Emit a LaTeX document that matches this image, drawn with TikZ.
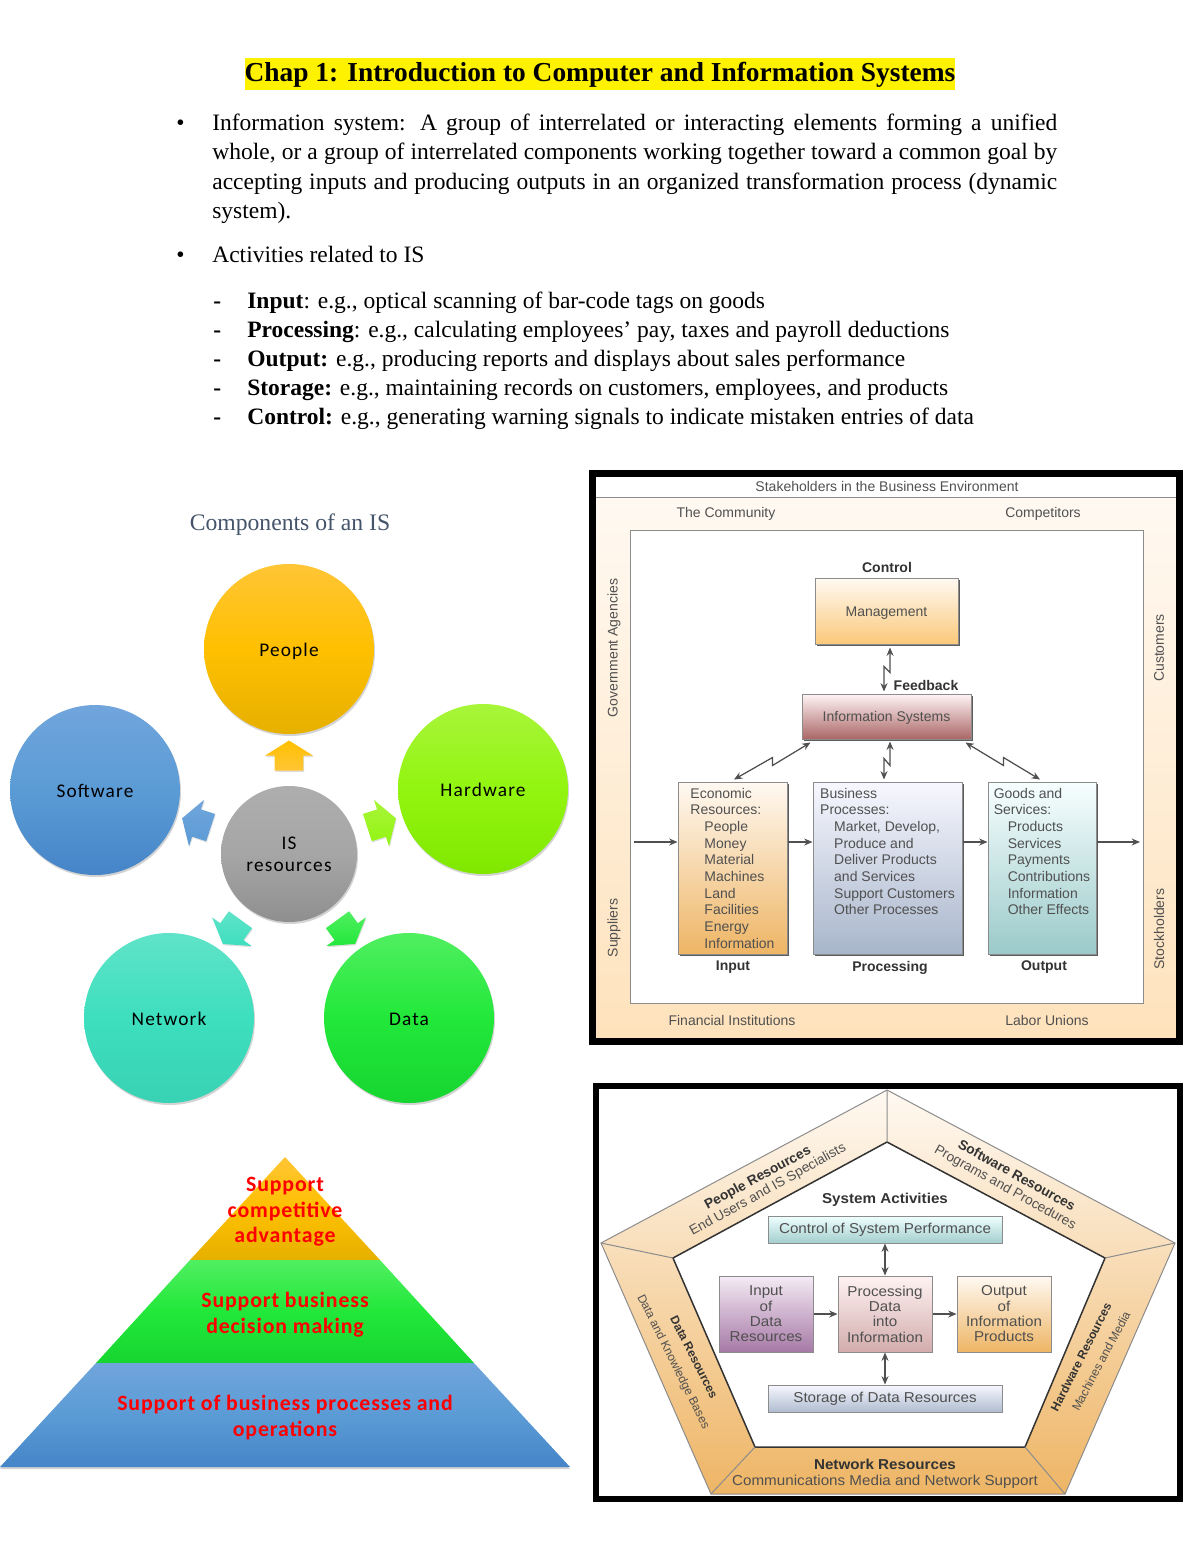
\documentclass[tikz,border=0pt]{standalone}
\usepackage{fontspec}
\setmainfont{Liberation Serif}
\setsansfont{Liberation Sans}
\newfontfamily\calfont[LetterSpace=6]{Carlito}
\newfontfamily\redfont[LetterSpace=4]{Carlito}
\newfontfamily\widesans[FakeStretch=1.06]{Liberation Sans}
\usetikzlibrary{shapes,shapes.arrows,shadows,arrows.meta}
\definecolor{txt}{HTML}{505050}
\definecolor{txtb}{HTML}{333333}
\definecolor{edge}{HTML}{8C8C8C}
\definecolor{head}{HTML}{44546A}
\definecolor{golda}{HTML}{FFC535}
\definecolor{goldb}{HTML}{FFC000}
\definecolor{goldc}{HTML}{E6B000}
\definecolor{greena}{HTML}{50EF60}
\definecolor{greenb}{HTML}{22E83A}
\definecolor{greenc}{HTML}{16D530}
\definecolor{bluea}{HTML}{70A5DC}
\definecolor{blueb}{HTML}{5B9BD5}
\definecolor{bluec}{HTML}{4585C8}
\definecolor{limea}{HTML}{A8F53A}
\definecolor{limeb}{HTML}{92F510}
\definecolor{limec}{HTML}{80E800}
\definecolor{teala}{HTML}{60E3C8}
\definecolor{tealb}{HTML}{3DDFBE}
\definecolor{tealc}{HTML}{38D2B4}
\definecolor{tanl}{HTML}{FFF9F2}
\definecolor{tand}{HTML}{EEB565}
\definecolor{peach}{HTML}{FEE2BC}
\definecolor{mgmtb}{HTML}{FBC97A}
\begin{document}
\begin{tikzpicture}[x=0.6pt,y=-0.6pt,node distance=71.4pt]
\tikzstyle{body}=[anchor=base west,inner sep=0pt,font=\fontsize{14.1}{17.6}\selectfont]
\tikzstyle{para}=[anchor=north west,inner sep=0pt,text width=507pt,align=justify,font=\fontsize{14.1}{17.6}\selectfont]
\tikzstyle{res}=[circle,inner sep=0pt,minimum size=102pt,drop shadow={shadow xshift=0.6pt,shadow yshift=-1.2pt,opacity=0.35},font=\calfont\fontsize{11.6}{13.4}\selectfont,align=center]
\tikzstyle{one}=[text height=8.6pt,text depth=0pt]
\tikzstyle{ptr}=[single arrow,inner xsep=0pt,inner ysep=8.4pt,minimum height=18pt,single arrow head extend=6pt,single arrow tip angle=116,drop shadow={shadow xshift=0.4pt,shadow yshift=-0.8pt,opacity=0.25}]
\tikzstyle{lvl}=[drop shadow={shadow xshift=0pt,shadow yshift=-1.2pt,opacity=0.35}]
\tikzstyle{redt}=[inner sep=0pt,align=center,text=red,font=\redfont\bfseries\fontsize{13.1}{15.3}\selectfont]
\tikzstyle{lab}=[inner sep=0pt,text=txt,font=\sffamily\fontsize{8.4}{10}\selectfont]
\tikzstyle{labb}=[inner sep=0pt,text=txtb,font=\sffamily\bfseries\fontsize{8.4}{10}\selectfont]
\tikzstyle{bmain}=[draw=edge,line width=0.6pt,inner sep=0pt,text=txt,align=center,font=\sffamily\fontsize{8.4}{10}\selectfont,drop shadow={shadow xshift=1.1pt,shadow yshift=-1.1pt,opacity=0.85,fill=black!75}]
\tikzstyle{blist}=[bmain,align=left,minimum height=103.2pt,inner xsep=0pt]
\tikzstyle{zig}=[draw=txt,line width=0.75pt,>={Stealth[length=5pt,width=4.2pt]}]
\tikzstyle{bact}=[draw=edge,line width=0.6pt,inner sep=0pt,text=txt,align=center,font=\widesans\fontsize{8.6}{9.2}\selectfont,drop shadow={shadow xshift=0.8pt,shadow yshift=-0.8pt,opacity=0.6}]
\tikzstyle{pbig}=[inner sep=0pt,text=txtb,font=\widesans\bfseries\fontsize{8.6}{10}\selectfont]
\tikzstyle{psmall}=[inner sep=0pt,text=txt,font=\widesans\fontsize{8.6}{10}\selectfont]
\tikzstyle{sbig}=[inner sep=0pt,text=txtb,font=\sffamily\bfseries\fontsize{8.2}{10}\selectfont]
\tikzstyle{ssmall}=[inner sep=0pt,text=txt,font=\sffamily\fontsize{8.2}{10}\selectfont]
\tikzstyle{tbig}=[inner sep=0pt,text=txtb,font=\sffamily\bfseries\fontsize{7.2}{10}\selectfont]
\tikzstyle{tsmall}=[inner sep=0pt,text=txt,font=\sffamily\fontsize{7.2}{10}\selectfont]
\useasboundingbox (0,0) rectangle (1200,1553);

\node [inner sep=0pt,fill=yellow,text height=14pt,text depth=5.2pt,font=\bfseries\fontsize{16.45}{19}\selectfont] (title) at (600,74) {Chap 1: Introduction to Computer and Information Systems};
\node [body] (b1) at (176,130) {•};
\node [para] (def) at (212,113.5) {Information system: A group of interrelated or interacting elements forming a unified\linebreak whole, or a group of interrelated components working together toward a common goal by\linebreak accepting inputs and producing outputs in an organized transformation process (dynamic\linebreak system).};
\node [body] (b2) at (176,262) {•};
\node [body] (act) at (212,262) {Activities related to IS};
\node [body] (d1) at (213,308) {\textbf{-}};
\node [body] (i1) at (247,308) {\textbf{Input}: e.g., optical scanning of bar-code tags on goods};
\node [body] (d2) at (213,337) {\textbf{-}};
\node [body] (i2) at (247,337) {\textbf{Processing}: e.g., calculating employees’ pay, taxes and payroll deductions};
\node [body] (d3) at (213,366) {\textbf{-}};
\node [body] (i3) at (247,366) {\textbf{Output:} e.g., producing reports and displays about sales performance};
\node [body] (d4) at (213,395) {\textbf{-}};
\node [body] (i4) at (247,395) {\textbf{Storage:} e.g., maintaining records on customers, employees, and products};
\node [body] (d5) at (213,424) {\textbf{-}};
\node [body] (i5) at (247,424) {\textbf{Control:} e.g., generating warning signals to indicate mistaken entries of data};

\node [inner sep=0pt,text=head,font=\fontsize{14.2}{16}\selectfont] (comp) at (290,524.5) {Components of an IS};
\node [res,one,top color=golda,bottom color=goldc,middle color=goldb] (people) at (289,649) {People};
\node [res,one,top color=bluea,bottom color=bluec,middle color=blueb] (software) at (95,790) {Software};
\node [res,one,top color=limea,bottom color=limec,middle color=limeb] (hardware) at (483,789) {Hardware};
\node [res,one,top color=teala,bottom color=tealc,middle color=tealb] (network) at (169,1018) {Network};
\node [res,one,top color=greena,bottom color=greenc,middle color=greenb] (data) at (409,1018) {Data};
\node [res,minimum size=81.6pt,top color=black!32,bottom color=black!44,middle color=black!35] (isres) at (289,854) {IS\\resources};
\node [ptr,rotate=90,top color=goldb,bottom color=golda] (pup) at (289,760) {};
\node [ptr,rotate=18,top color=limea,bottom color=limeb] (phw) at (377.4,824.3) {};
\node [ptr,rotate=-54,top color=greena,bottom color=greenb] (pda) at (343.7,928.2) {};
\node [ptr,rotate=-126,top color=teala,bottom color=tealb] (pnw) at (234.3,928.2) {};
\node [ptr,rotate=162,top color=bluea,bottom color=blueb] (psw) at (200.6,824.3) {};

\shade [lvl,top color=golda,bottom color=goldc,middle color=goldb] (285,1157) -- (380,1260) -- (190,1260) -- cycle;
\shade [lvl,top color=greena,bottom color=greenc,middle color=greenb] (190,1260) -- (380,1260) -- (474,1363) -- (96,1363) -- cycle;
\shade [lvl,top color=bluea,bottom color=bluec,middle color=blueb] (96,1363) -- (474,1363) -- (570,1467) -- (0,1467) -- cycle;
\node [redt] (lv3) at (285,1212) {Support\\competitive\\advantage};
\node [redt] (lv2) at (285,1314.5) {Support business\\decision making};
\node [redt] (lv1) at (285,1417.5) {Support of business processes and\\operations};

\shade [bottom color=peach,top color=tanl] (596,497) rectangle (1176,1038);
\draw [edge,line width=0.6pt] (596,497) -- (1176,497);
\fill [white,draw=edge,line width=0.6pt] (630,530) rectangle (1143,1003);
\draw [black,line width=4.2pt] (592.5,473.5) rectangle (1179.5,1041.5);
\node [lab] (stake) at (887,486) {Stakeholders in the Business Environment};
\node [lab] (comm) at (726,514) {The Community};
\node [lab] (compet) at (1043,514) {Competitors};
\node [lab] (fin) at (732,1020) {Financial Institutions};
\node [lab] (labor) at (1047,1020) {Labor Unions};
\node [lab,rotate=90] (gov) at (614,648) {Government Agencies};
\node [lab,rotate=90] (supp) at (614,928) {Suppliers};
\node [lab,rotate=90] (cust) at (1159,648) {Customers};
\node [lab,rotate=90] (stock) at (1159,929) {Stockholders};
\node [labb] (ctrl) at (887,567) {Control};
\node [bmain,minimum width=85.8pt,minimum height=39.6pt,text height=6pt,text depth=0pt,top color=tanl,bottom color=mgmtb] (mgmt) at (886.5,611) {Management};
\node [labb] (fb) at (926,685) {Feedback};
\node [bmain,minimum width=101.4pt,minimum height=27pt,text height=6pt,text depth=0pt,top color=red!4!white,bottom color=red!45!black!60!white] (infosys) at (886.5,716.5) {Information Systems};
\node [blist,minimum width=65.4pt,top color=tanl,bottom color=tand] (inbox) at (732.5,868) {Economic\\Resources:\\\hspace*{8.4pt}People\\\hspace*{8.4pt}Money\\\hspace*{8.4pt}Material\\\hspace*{8.4pt}Machines\\\hspace*{8.4pt}Land\\\hspace*{8.4pt}Facilities\\\hspace*{8.4pt}Energy\\\hspace*{8.4pt}Information};
\node [blist,minimum width=89.4pt,top color=blue!3!white,bottom color=blue!60!cyan!25!gray!55] (procbox) at (887.5,868) {Business\\Processes:\\\hspace*{8.4pt}Market, Develop,\\\hspace*{8.4pt}Produce and\\\hspace*{8.4pt}Deliver Products\\\hspace*{8.4pt}and Services\\\hspace*{8.4pt}Support Customers\\\hspace*{8.4pt}Other Processes\\~\\~};
\node [blist,minimum width=64.8pt,top color=cyan!3!white,bottom color=cyan!30!gray!60] (outbox) at (1042,868) {Goods and\\Services:\\\hspace*{8.4pt}Products\\\hspace*{8.4pt}Services\\\hspace*{8.4pt}Payments\\\hspace*{8.4pt}Contributions\\\hspace*{8.4pt}Information\\\hspace*{8.4pt}Other Effects\\~\\~};
\node [labb] (lin) at (733,967.5) {Input};
\node [labb] (lproc) at (890,967.5) {Processing};
\node [labb] (lout) at (1044,967.5) {Output};
\coordinate (feed) at (634,842);
\coordinate (outlet) at (1140,842);
\draw [zig,<->] ([xshift=2.1pt,yshift=-1.8pt]mgmt.south) -- ++(0,25) -- ++(-6,-6) -- ([xshift=-1.5pt,yshift=1.2pt]infosys.north);
\draw [zig,<->] ([xshift=2.1pt,yshift=-1.2pt]infosys.south) -- ++(0,24) -- ++(-6,-7) -- ([xshift=-2.1pt,yshift=1.2pt]procbox.north);
\draw [zig,<->] ([xshift=5.4pt,yshift=-1.8pt]infosys.south west) -- ++(-38,23) -- ++(0,-8) -- ([xshift=0.9pt,yshift=1.2pt]inbox.north);
\draw [zig,<->] ([xshift=-3.6pt,yshift=-1.8pt]infosys.south east) -- ++(38,23) -- ++(0,-8) -- ([xshift=-1.2pt,yshift=1.2pt]outbox.north);
\draw [zig,->] (feed) -- (feed -| inbox.west);
\draw [zig,->] (inbox.east |- feed) -- (procbox.west |- feed);
\draw [zig,->] (procbox.east |- feed) -- (outbox.west |- feed);
\draw [zig,->] (outbox.east |- feed) -- (outlet);

\shade [top color=tanl,bottom color=tand,even odd rule] (887,1090) -- (1175,1243) -- (1065,1494) -- (711,1494) -- (601,1243) -- cycle (887,1142) -- (1105,1258) -- (1025,1447) -- (755,1447) -- (673,1258) -- cycle;
\draw [edge,line width=0.6pt] (887,1090) -- (1175,1243) -- (1065,1494) -- (711,1494) -- (601,1243) -- cycle;
\draw [txtb,line width=0.9pt] (887,1142) -- (1105,1258) -- (1025,1447) -- (755,1447) -- (673,1258) -- cycle;
\draw [edge,line width=0.6pt] (887,1090) -- (887,1142) (1175,1243) -- (1105,1258) (1065,1494) -- (1025,1447) (711,1494) -- (755,1447) (601,1243) -- (673,1258);
\draw [black,line width=3.6pt] (596,1086) rectangle (1180,1499);
\node [sbig,rotate=28.5] (peop) at (758,1178.5) {People Resources};
\node [ssmall,rotate=29] (peop2) at (768,1190) {End Users and IS Specialists};
\node [sbig,rotate=-29] (soft) at (1017,1175) {Software Resources};
\node [ssmall,rotate=-29] (soft2) at (1005,1188) {Programs and Procedures};
\node [tbig,rotate=-63] (datr) at (694,1357) {Data Resources};
\node [tsmall,rotate=-63.5] (datr2) at (673,1362) {Data and Knowledge Bases};
\node [tbig,rotate=63] (hard) at (1081,1357) {Hardware Resources};
\node [tsmall,rotate=62] (hard2) at (1101,1361) {Machines and Media};
\node [pbig] (netw) at (885,1464) {Network Resources};
\node [psmall] (netw2) at (885,1481.5) {Communications Media and Network Support};
\node [pbig] (sysact) at (885,1200) {System Activities};
\node [bact,minimum width=56.4pt,minimum height=45.6pt,top color=red!5!white,bottom color=red!30!gray!50!white] (pdata) at (885,1314) {Processing\\Data\\into\\Information};
\node [bact,left of=pdata,minimum width=56.4pt,minimum height=45.6pt,top color=violet!8!white,bottom color=violet!50!gray!70!white] (idata) {Input\\of\\Data\\Resources};
\node [bact,right of=pdata,minimum width=56.4pt,minimum height=45.6pt,top color=tanl,bottom color=tand] (oinfo) {Output\\of\\Information\\Products};
\node [bact,above of=pdata,node distance=50.7pt,minimum width=140.4pt,minimum height=16.2pt,top color=cyan!6!white,bottom color=cyan!30!gray!55] (ctrlp) {Control of System Performance};
\node [bact,below of=pdata,node distance=50.7pt,minimum width=140.4pt,minimum height=16.2pt,top color=blue!3!white,bottom color=blue!60!cyan!25!gray!50] (stor) {Storage of Data Resources};
\draw [zig,->] (idata) -- (pdata);
\draw [zig,->] (pdata) -- (oinfo);
\draw [zig,<->] (ctrlp) -- (pdata);
\draw [zig,<->] (pdata) -- (stor);
\end{tikzpicture}
\end{document}
